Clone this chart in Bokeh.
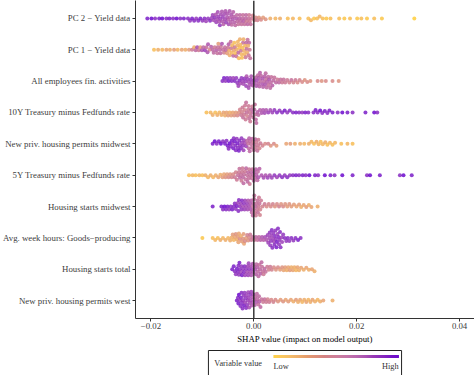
import numpy as np
from bokeh.plotting import figure
from bokeh.models import Range1d, FixedTicker, Span, ColumnDataSource
from bokeh.layouts import column
from bokeh.core.properties import value
from bokeh.embed import file_html
from bokeh.resources import INLINE

# ---------------- data (SHAP values in units of 1e-3, feature values 0=low .. 1=high)
features = ["PC 2 \u2212 Yield data", "PC 1 \u2212 Yield data", "All employees fin. activities",
            "10Y Treasury minus Fedfunds rate", "New priv. housing permits midwest",
            "5Y Treasury minus Fedfunds rate", "Housing starts midwest",
            "Avg. week hours: Goods\u2212producing", "Housing starts total",
            "New priv. housing permits west"]

shap_pc2 = [-20.7, -19.9, -19.2, -18.4, -17.8, -17.0, -16.4, -15.7, -15.0, -14.3, -13.6,
            -12.8, -12.4, -12.0, -11.6, -11.2, -10.8, -10.4, -10.0, -9.6, -9.3, -8.9, -8.5, -8.2,
            -8.0, -7.8, -7.6, -7.4, -7.3, -7.1, -6.9, -6.7, -6.6, -6.4, -6.2, -6.0, -5.9, -5.7, -5.5,
            -5.4, -5.2, -5.0, -4.9, -4.7, -4.6, -4.4, -4.3, -4.1, -4.0,
            -3.8, -3.6, -3.4, -3.2, -3.0, -2.8, -2.6, -2.4, -2.2, -2.0, -1.8, -1.6, -1.4, -1.2, -1.0,
            -0.8, -0.6, -0.4, -0.2,
            0.1, 0.4, 0.7, 1.0, 1.4, 1.8, 2.3,
            3.2, 4.2, 5.1, 6.6, 7.6, 8.9,
            10.6, 11.1, 11.7, 12.3, 12.8, 13.4, 14.1, 14.9,
            16.6, 17.6, 18.7, 20.1, 20.9, 22.0, 23.4, 24.9, 31.2,
            -7.0, -6.5, -6.1, -5.6, -5.1, -4.5, -3.9, -3.3, -2.7, -2.1, -1.5, -0.9]
feat_pc2 = [0.95, 1.0, 0.9, 0.95, 1.0, 0.9, 0.95, 0.9, 1.0, 0.9, 0.95,
            0.9, 0.85, 0.95, 0.9, 0.85, 0.9, 0.95, 0.85, 0.9, 0.8, 0.85, 0.9, 0.8,
            0.8, 0.75, 0.85, 0.7, 0.8, 0.75, 0.8, 0.7, 0.85, 0.75, 0.7, 0.8, 0.65, 0.75, 0.7,
            0.8, 0.7, 0.65, 0.75, 0.7, 0.65, 0.7, 0.6, 0.7, 0.65,
            0.65, 0.6, 0.7, 0.6, 0.55, 0.65, 0.6, 0.55, 0.6, 0.65, 0.55, 0.6, 0.5, 0.6, 0.55,
            0.5, 0.55, 0.5, 0.45,
            0.45, 0.4, 0.45, 0.35, 0.4, 0.3, 0.35,
            0.2, 0.15, 0.2, 0.1, 0.15, 0.1,
            0.1, 0.15, 0.05, 0.1, 0.15, 0.1, 0.05, 0.1,
            0.1, 0.05, 0.1, 0.05, 0.1, 0.05, 0.1, 0.05, 0.0,
            0.75, 0.8, 0.7, 0.75, 0.7, 0.65, 0.65, 0.6, 0.6, 0.55, 0.6, 0.5]

shap_pc1 = [-19.4, -18.6, -17.8, -17.0, -16.3, -15.5, -14.8, -14.0, -13.3, -12.6, -12.0, -11.6,
            -11.3, -11.0, -10.7, -10.4, -10.1, -9.8, -9.5, -9.2, -8.9, -8.6, -8.3, -8.0,
            -7.8, -7.6, -7.3, -7.1, -6.9, -6.6, -6.4, -6.2, -6.0, -5.8,
            -5.6, -5.4, -5.2, -5.0, -4.9, -4.7, -4.5, -4.4, -4.2, -4.0, -3.9, -3.7, -3.6, -3.4,
            -3.3, -3.1, -3.0, -2.8, -2.7, -2.5, -2.4, -2.2, -2.1, -1.9, -1.8, -1.6, -1.5, -1.3,
            -1.2, -1.0, -0.9, -0.7,
            -4.8, -4.3, -3.8, -3.2, -2.9, -2.6, -2.3, -2.0, -1.7, -1.4, -1.1, -0.8, -6.5, -7.0, -9.0]
feat_pc1 = [0.1, 0.2, 0.15, 0.25, 0.2, 0.3, 0.15, 0.25, 0.2, 0.3, 0.5, 0.2,
            0.6, 0.75, 0.5, 0.3, 0.7, 0.6, 0.8, 0.55, 0.7, 0.4, 0.65, 0.6,
            0.6, 0.5, 0.65, 0.55, 0.3, 0.6, 0.5, 0.7, 0.55, 0.45,
            0.55, 0.6, 0.3, 0.5, 0.65, 0.2, 0.55, 0.5, 0.15, 0.6, 0.25, 0.5, 0.1, 0.55,
            0.2, 0.15, 0.6, 0.1, 0.2, 0.5, 0.15, 0.1, 0.55, 0.2, 0.15, 0.5, 0.6, 0.2,
            0.55, 0.5, 0.6, 0.55,
            0.2, 0.15, 0.1, 0.2, 0.1, 0.15, 0.1, 0.2, 0.15, 0.55, 0.2, 0.5, 0.6, 0.55, 0.7]

shap_emp = [-6.1, -5.8, -5.5, -5.2, -4.9, -4.6, -4.3, -4.0, -3.7, -3.4,
            -3.2, -3.0, -2.8, -2.6, -2.4, -2.2, -2.0, -1.8, -1.6, -1.4, -1.2, -1.0, -0.8, -0.6,
            -0.4, -0.2, 0.0,
            0.2, 0.4, 0.6, 0.8, 1.0, 1.2, 1.4, 1.6, 1.8, 2.0, 2.2, 2.4, 2.6, 2.8, 3.0, 3.2, 3.4,
            3.6, 3.8, 4.0, 4.3, 4.6, 4.9, 5.2, 5.5, 5.8, 6.1,
            6.5, 6.9, 7.3, 7.7, 8.1, 8.5, 8.9, 9.4, 9.9, 10.4, 11.0,
            12.4, 13.2, 14.0, 15.3, 16.5,
            0.5, 0.9, 1.3, 1.7, 2.1, 2.5, 2.9, 3.3, -1.5, -1.0, -0.5, 1.1, 2.3]
feat_emp = [0.9, 0.95, 0.85, 0.9, 0.95, 0.85, 0.9, 0.8, 0.9, 0.85,
            0.85, 0.8, 0.9, 0.75, 0.85, 0.8, 0.75, 0.85, 0.8, 0.7, 0.8, 0.75, 0.7, 0.8,
            0.75, 0.7, 0.75,
            0.7, 0.65, 0.75, 0.6, 0.7, 0.65, 0.6, 0.7, 0.65, 0.6, 0.7, 0.55, 0.65, 0.6, 0.7, 0.6,
            0.55, 0.65, 0.6, 0.55, 0.6, 0.5, 0.6, 0.55, 0.5, 0.55, 0.5,
            0.5, 0.45, 0.55, 0.45, 0.5, 0.4, 0.45, 0.4, 0.35, 0.4, 0.35,
            0.4, 0.35, 0.4, 0.4, 0.35,
            0.7, 0.65, 0.6, 0.7, 0.65, 0.6, 0.55, 0.6, 0.8, 0.75, 0.7, 0.65, 0.6]

shap_10y = [-9.2, -8.4, -8.0, -7.5, -7.1, -6.7, -6.3, -5.9,
            -5.6, -5.3, -5.0, -4.7, -4.4, -4.1, -3.8, -3.5, -3.2, -2.9, -2.7,
            -2.5, -2.3, -2.1, -1.9, -1.7, -1.5, -1.3, -1.1, -0.9, -0.7, -0.5, -0.3, -0.1, 0.1,
            0.3, 0.5, 0.7, 0.9,
            1.2, 1.5, 1.8, 2.1, 2.4, 2.8, 3.2, 3.6,
            4.0, 4.5, 5.0, 5.5, 6.0, 6.5, 7.0, 7.6, 8.2, 8.8, 9.4, 10.0, 10.6,
            11.6, 12.0, 12.4, 12.9, 13.3, 13.8, 14.3, 14.7,
            15.3, 16.3, 17.2, 18.2, 19.2, 21.7, 23.4, 24.0,
            -2.2, -1.8, -1.4, -1.0, -0.6, -0.2, 0.2, -1.6, -0.8, 0.4]
feat_10y = [0.1, 0.15, 0.2, 0.1, 0.2, 0.15, 0.2, 0.25,
            0.2, 0.25, 0.3, 0.2, 0.3, 0.25, 0.35, 0.3, 0.4, 0.35, 0.45,
            0.5, 0.45, 0.55, 0.5, 0.5, 0.55, 0.45, 0.5, 0.55, 0.5, 0.6, 0.5, 0.55, 0.6,
            0.55, 0.6, 0.65, 0.6,
            0.65, 0.7, 0.7, 0.75, 0.7, 0.8, 0.75, 0.8,
            0.85, 0.9, 0.85, 0.9, 0.95, 0.85, 0.9, 0.9, 0.95, 0.9, 0.85, 0.95, 0.9,
            0.9, 0.95, 0.9, 1.0, 0.9, 0.95, 0.9, 0.95,
            0.95, 0.9, 1.0, 0.95, 0.9, 0.95, 1.0, 0.9,
            0.5, 0.45, 0.55, 0.5, 0.55, 0.6, 0.55, 0.5, 0.5, 0.6]

shap_npm = [-8.0, -7.6, -7.2, -6.8, -6.4, -6.0, -5.6, -5.3,
            -5.1, -4.9, -4.7, -4.5, -4.3, -4.1, -3.9, -3.7, -3.5, -3.3, -3.1, -2.9, -2.7, -2.5,
            -2.3, -2.1, -1.9, -1.7, -1.5,
            -1.3, -1.1, -0.9, -0.7, -0.5, -0.3, -0.1, 0.1, 0.3, 0.5, 0.7, 0.9, 1.1, 1.3,
            1.7, 2.2, 2.8, 3.3, 3.9, 4.4,
            6.3, 7.1, 8.0, 9.0, 9.8, 10.7,
            11.2, 11.7, 12.2, 12.6, 13.0, 13.4, 13.9, 14.3, 14.8, 15.3, 15.8,
            17.0, 18.2, 19.2,
            -4.0, -3.6, -3.2, -2.8, -2.4, -2.0, -0.8, -0.4, 0.0, 0.4, 0.8, -1.0]
feat_npm = [0.95, 1.0, 0.9, 0.95, 1.0, 0.9, 0.95, 0.9,
            0.95, 0.9, 1.0, 0.9, 0.95, 0.85, 0.9, 0.95, 0.9, 0.85, 0.9, 0.95, 0.85, 0.9,
            0.8, 0.85, 0.8, 0.75, 0.8,
            0.6, 0.55, 0.65, 0.6, 0.55, 0.6, 0.5, 0.55, 0.6, 0.5, 0.55, 0.5, 0.45, 0.5,
            0.45, 0.4, 0.45, 0.35, 0.4, 0.3,
            0.25, 0.3, 0.2, 0.2, 0.15, 0.2,
            0.15, 0.1, 0.2, 0.15, 0.1, 0.15, 0.2, 0.1, 0.15, 0.1, 0.15,
            0.1, 0.15, 0.1,
            0.95, 0.9, 0.95, 0.9, 0.85, 0.8, 0.6, 0.55, 0.55, 0.5, 0.5, 0.6]

shap_5y = [-12.6, -11.9, -11.3, -10.6, -10.0, -9.4, -8.9, -8.4, -7.9, -7.4, -6.9, -6.5,
           -6.1, -5.8, -5.5, -5.2, -4.9, -4.6, -4.3, -4.0, -3.7, -3.5,
           -3.3, -3.1, -2.9, -2.7, -2.5, -2.3, -2.1, -1.9, -1.7, -1.5, -1.3, -1.1, -0.9, -0.7,
           -0.5, -0.3, -0.1, 0.1, 0.3, 0.5, 0.7, 0.9, 1.1,
           1.5, 1.9, 2.3, 2.7, 3.1, 3.5, 4.0, 4.5, 5.0, 5.5, 6.0, 6.5, 7.0,
           7.6, 8.2, 8.8, 9.5, 10.1, 10.8,
           11.9, 12.5, 13.8, 14.9, 15.7, 17.2, 19.2, 22.0, 22.6, 24.5, 28.4, 29.1, 30.7,
           -2.8, -2.4, -2.0, -1.6, -1.2, -0.8, -0.4, 0.0, 0.4, 0.8, -1.0, -2.2]
feat_5y = [0.1, 0.15, 0.1, 0.15, 0.1, 0.2, 0.15, 0.2, 0.15, 0.2, 0.25, 0.2,
           0.3, 0.25, 0.35, 0.3, 0.4, 0.35, 0.45, 0.4, 0.5, 0.45,
           0.5, 0.55, 0.5, 0.6, 0.55, 0.5, 0.6, 0.55, 0.5, 0.6, 0.55, 0.6, 0.5, 0.55,
           0.6, 0.55, 0.6, 0.65, 0.6, 0.65, 0.6, 0.7, 0.65,
           0.7, 0.75, 0.7, 0.8, 0.75, 0.8, 0.85, 0.8, 0.85, 0.9, 0.85, 0.9, 0.85,
           0.9, 0.95, 0.9, 0.95, 0.9, 1.0,
           0.95, 0.9, 1.0, 0.95, 0.9, 1.0, 0.95, 0.9, 1.0, 0.95, 0.9, 1.0, 0.95,
           0.55, 0.5, 0.6, 0.55, 0.6, 0.5, 0.55, 0.6, 0.65, 0.6, 0.55, 0.5]

shap_hsm = [-8.0,
            -6.3, -6.0, -5.7, -5.4, -5.1, -4.8, -4.5, -4.2, -3.9,
            -3.7, -3.5, -3.3, -3.1, -2.9, -2.7, -2.5, -2.3, -2.1, -1.9, -1.7, -1.5, -1.3, -1.1,
            -0.9, -0.7, -0.5,
            -0.4, -0.25, -0.1, 0.05, 0.2, 0.35, 0.5, 0.65, 0.8, 0.95, 1.1, 1.25, 1.4,
            1.7, 2.1, 2.5, 2.9, 3.3, 3.7, 4.1, 4.5, 4.9, 5.3, 5.7, 6.1, 6.5, 6.9, 7.3,
            7.8, 8.3, 8.8, 9.2, 9.7, 10.2, 10.7, 11.2, 12.4,
            -3.0, -2.4, -1.8, -1.2, -0.6, -0.2, 0.1, 0.4, 0.7, 1.0, 1.2, 0.0]
feat_hsm = [0.95,
            0.95, 0.9, 1.0, 0.9, 0.95, 0.85, 0.9, 0.95, 0.9,
            0.9, 0.85, 0.95, 0.8, 0.9, 0.85, 0.8, 0.9, 0.75, 0.85, 0.8, 0.75, 0.8, 0.7,
            0.75, 0.7, 0.65,
            0.6, 0.55, 0.6, 0.55, 0.5, 0.6, 0.55, 0.5, 0.55, 0.5, 0.55, 0.45, 0.5,
            0.45, 0.5, 0.4, 0.45, 0.4, 0.45, 0.35, 0.4, 0.45, 0.35, 0.4, 0.35, 0.3, 0.35, 0.3,
            0.3, 0.25, 0.3, 0.2, 0.25, 0.3, 0.2, 0.25, 0.2,
            0.9, 0.85, 0.8, 0.75, 0.7, 0.6, 0.55, 0.5, 0.55, 0.5, 0.45, 0.55]

shap_awh = [-10.0,
            -8.0, -7.5, -7.0, -6.5, -6.0, -5.5, -5.0, -4.6,
            -4.3, -4.1, -3.9, -3.7, -3.5, -3.3, -3.1, -2.9, -2.7, -2.5, -2.3, -2.1, -1.9, -1.7,
            -1.5, -1.3, -1.1, -0.9, -0.7,
            -0.5, -0.2, 0.1, 0.4, 0.7, 1.0, 1.3,
            1.6, 1.9, 2.2, 2.5, 2.8, 3.0, 3.2, 3.4, 3.6, 3.8, 3.9, 4.1, 4.3, 4.5, 4.6, 4.8, 5.0,
            5.2, 5.4, 5.7, 6.0, 6.3, 6.6, 6.9,
            7.3, 7.7, 8.1, 8.6, 9.1,
            2.7, 3.1, 3.5, 3.7, 4.0, 4.2, 4.4, 4.7, 4.9, 5.1, 5.5, 3.3, -2.0, -3.0]
feat_awh = [0.05,
            0.1, 0.15, 0.1, 0.2, 0.15, 0.2, 0.15, 0.2,
            0.2, 0.3, 0.15, 0.25, 0.35, 0.2, 0.3, 0.25, 0.4, 0.2, 0.3, 0.35, 0.25, 0.4,
            0.3, 0.45, 0.35, 0.4, 0.5,
            0.5, 0.55, 0.5, 0.6, 0.55, 0.6, 0.65,
            0.7, 0.65, 0.75, 0.7, 0.8, 0.75, 0.85, 0.8, 0.9, 0.85, 0.8, 0.9, 0.85, 0.95, 0.8, 0.9,
            0.85, 0.9, 0.8, 0.85, 0.9, 0.85, 0.9, 0.85,
            0.9, 0.85, 0.9, 0.95, 0.9,
            0.8, 0.85, 0.9, 0.8, 0.9, 0.85, 0.95, 0.9, 0.85, 0.9, 0.8, 0.85, 0.3, 0.25]

shap_hst = [-4.2,
            -3.9, -3.7, -3.5, -3.3, -3.1, -2.9, -2.7, -2.5, -2.3, -2.1, -1.9, -1.7, -1.5, -1.3,
            -1.1, -0.9, -0.7, -0.5, -0.3, -0.1,
            0.1, 0.3, 0.5, 0.7, 0.9, 1.1, 1.3, 1.5, 1.7, 1.9, 2.1, 2.3, 2.6, 2.9, 3.2, 3.5,
            3.9, 4.3, 4.7, 5.1, 5.5, 5.8, 6.1, 6.4, 6.7, 7.0, 7.3, 7.6, 7.9, 8.2, 8.5, 8.8,
            9.2, 9.7, 10.2, 10.7, 11.3, 11.8,
            -3.0, -2.4, -1.8, -1.2, -0.6, -0.2, 0.4, 0.8, 1.2, 1.6, -2.8, -1.0]
feat_hst = [0.95,
            0.95, 0.9, 0.85, 0.95, 0.9, 0.85, 0.9, 0.8, 0.95, 0.85, 0.9, 0.8, 0.85, 0.75,
            0.8, 0.85, 0.75, 0.7, 0.8, 0.7,
            0.65, 0.7, 0.6, 0.65, 0.6, 0.55, 0.65, 0.6, 0.55, 0.5, 0.6, 0.55, 0.5, 0.45, 0.5, 0.45,
            0.4, 0.35, 0.4, 0.3, 0.35, 0.25, 0.3, 0.2, 0.25, 0.3, 0.2, 0.25, 0.2, 0.15, 0.25, 0.2,
            0.25, 0.2, 0.25, 0.2, 0.25, 0.2,
            0.9, 0.85, 0.9, 0.8, 0.75, 0.7, 0.65, 0.6, 0.6, 0.55, 0.95, 0.8]

shap_npw = [-3.3, -3.1, -2.9, -2.7, -2.6, -2.5, -2.3, -2.1, -2.0, -1.9, -1.7, -1.5, -1.4, -1.3,
            -1.1, -0.9, -0.8, -0.7, -0.5, -0.3, -0.2, -0.1,
            0.1, 0.3, 0.5, 0.7, 0.9, 1.1, 1.3, 1.5, 1.8, 2.1, 2.4, 2.7, 3.0, 3.4, 3.8, 4.2,
            4.7, 5.2, 5.7, 6.2, 6.7, 7.2, 7.7, 8.2, 8.6, 9.0, 9.4, 9.8, 10.2, 10.6, 11.0, 11.4,
            11.9, 12.4, 12.9, 13.5, 15.3,
            -3.0, -2.4, -1.8, -1.2, -0.6, -0.4, 0.2, 0.6, 1.0, -2.2, -1.6, -1.0]
feat_npw = [0.95, 0.9, 1.0, 0.85, 0.9, 0.95, 0.9, 0.85, 0.85, 0.95, 0.8, 0.9, 0.8, 0.85,
            0.8, 0.75, 0.75, 0.85, 0.8, 0.7, 0.7, 0.75,
            0.65, 0.6, 0.7, 0.6, 0.55, 0.65, 0.6, 0.55, 0.5, 0.55, 0.5, 0.45, 0.5, 0.4, 0.45, 0.4,
            0.35, 0.3, 0.35, 0.25, 0.3, 0.25, 0.2, 0.3, 0.2, 0.25, 0.15, 0.2, 0.25, 0.15, 0.2, 0.25,
            0.2, 0.15, 0.2, 0.25, 0.2,
            0.95, 0.9, 0.85, 0.8, 0.75, 0.7, 0.65, 0.6, 0.6, 0.9, 0.85, 0.8]

shap_rows = [shap_pc2, shap_pc1, shap_emp, shap_10y, shap_npm,
             shap_5y, shap_hsm, shap_awh, shap_hst, shap_npw]
feat_rows = [feat_pc2, feat_pc1, feat_emp, feat_10y, feat_npm,
             feat_5y, feat_hsm, feat_awh, feat_hst, feat_npw]

x_ticks = [-0.02, 0.0, 0.02, 0.04]
x_tick_labels = ["\u22120.02", "0.00", "0.02", "0.04"]
low_color, high_color = "#FFCC33", "#6600CC"

# ---------------- colour scale (Lab interpolation like ggplot)
_M = np.array([[0.4124, 0.3576, 0.1805], [0.2126, 0.7152, 0.0722], [0.0193, 0.1192, 0.9505]])
_Mi = np.linalg.inv(_M)
_WN = np.array([0.95047, 1.0, 1.08883])

def _hex_to_lab(h):
    rgb = np.array([int(h[i:i + 2], 16) / 255 for i in (1, 3, 5)])
    lin = np.where(rgb <= 0.04045, rgb / 12.92, ((rgb + 0.055) / 1.055) ** 2.4)
    t = _M @ lin / _WN
    d = 6 / 29
    f = np.where(t > d ** 3, np.cbrt(t), t / (3 * d * d) + 4 / 29)
    return np.array([116 * f[1] - 16, 500 * (f[0] - f[1]), 200 * (f[1] - f[2])])

def _lab_to_hex(lab):
    L, a, b = lab
    fy = (L + 16) / 116
    fx, fz = fy + a / 500, fy - b / 200
    d = 6 / 29
    f = np.array([fx, fy, fz])
    t = np.where(f > d, f ** 3, 3 * d * d * (f - 4 / 29)) * _WN
    lin = np.clip(_Mi @ t, 0, 1)
    rgb = np.where(lin <= 0.0031308, 12.92 * lin, 1.055 * lin ** (1 / 2.4) - 0.055)
    return "#%02x%02x%02x" % tuple(int(round(c * 255)) for c in np.clip(rgb, 0, 1))

LAB_LO, LAB_HI = _hex_to_lab(low_color), _hex_to_lab(high_color)

def grad(v):
    return _lab_to_hex(LAB_LO + (LAB_HI - LAB_LO) * v)

# ---------------- layout constants
W, H_MAIN, H_LEG = 474, 346, 29
FRAME_L, FRAME_B = 130, 26
X0, X1 = -0.0230, 0.0429
Y0, Y1 = 10.57, 0.43
px_per_x = (W - FRAME_L) / (X1 - X0)
px_per_y = (H_MAIN - FRAME_B) / (Y0 - Y1)

def swarm(xpx, d=3.1, step=0.5, maxoff=11.0):
    order = np.argsort(xpx, kind="stable")
    px_l, py_l = [], []
    off = np.zeros(len(xpx))
    for n, i in enumerate(order):
        x = xpx[i]
        near = [(a, b) for a, b in zip(px_l, py_l) if abs(a - x) < d]
        chosen, k = None, 0
        while chosen is None and k * step <= maxoff:
            if k == 0:
                cands = [0.0]
            else:
                cands = [k * step, -k * step] if n % 2 == 0 else [-k * step, k * step]
            for yy in cands:
                if all((x - a) ** 2 + (yy - b) ** 2 >= d * d for a, b in near):
                    chosen = yy
                    break
            k += 1
        if chosen is None:
            chosen = 0.0
        off[i] = chosen
        px_l.append(x)
        py_l.append(chosen)
    return off

xs, ys, cols = [], [], []
for r, (sv, fv) in enumerate(zip(shap_rows, feat_rows)):
    xv = np.array(sv) / 1000.0
    offs = swarm(xv * px_per_x)
    for xval, o, f in zip(xv, offs, fv):
        xs.append(xval)
        ys.append(r + 1 + o / px_per_y)
        cols.append(grad(f))

src = ColumnDataSource(dict(x=xs, y=ys, c=cols))

FONT = "Liberation Serif"

p = figure(width=W, height=H_MAIN, x_range=Range1d(X0, X1), y_range=Range1d(Y0, Y1),
           output_backend="svg", toolbar_location=None,
           min_border_left=FRAME_L, min_border_right=0, min_border_top=0,
           min_border_bottom=FRAME_B)
p.outline_line_color = None
p.xgrid.grid_line_color = None
p.ygrid.grid_line_color = None
p.background_fill_color = "white"
p.border_fill_color = "white"

p.add_layout(Span(location=0, dimension="height", line_color="#1a1a1a", line_width=1.3))
p.scatter("x", "y", source=src, size=4.0, fill_color="c", line_color=None, fill_alpha=0.82)

for ax in (p.xaxis[0], p.yaxis[0]):
    ax.axis_line_color = "#333333"
    ax.axis_line_width = 1
    ax.major_tick_line_color = "#333333"
    ax.major_tick_in = 0
    ax.major_tick_out = 3
    ax.minor_tick_line_color = None
    ax.major_label_text_font = FONT
    ax.major_label_text_font_size = "8.8px"
    ax.major_label_text_color = "#404040"

p.yaxis.ticker = FixedTicker(ticks=list(range(1, 11)))
p.yaxis.major_label_overrides = {i + 1: name for i, name in enumerate(features)}
p.yaxis.major_label_standoff = 2

p.xaxis.ticker = FixedTicker(ticks=x_ticks)
p.xaxis.major_label_overrides = {t: l for t, l in zip(x_ticks, x_tick_labels)}
p.xaxis.major_label_standoff = 1
p.xaxis.axis_label = "SHAP value (impact on model output)"
p.xaxis.axis_label_text_font = FONT
p.xaxis.axis_label_text_font_size = "8.8px"
p.xaxis.axis_label_text_font_style = "normal"
p.xaxis.axis_label_text_color = "#000000"
p.xaxis.axis_label_standoff = 2

# ---------------- legend (colour bar) panel; frame aligned with main frame (x in pixels)
lg = figure(width=W, height=H_LEG, x_range=Range1d(FRAME_L, W), y_range=Range1d(H_LEG, 0),
            output_backend="svg", toolbar_location=None, x_axis_type=None, y_axis_type=None,
            min_border_left=FRAME_L, min_border_right=0, min_border_top=0, min_border_bottom=0)
lg.outline_line_color = None
lg.xgrid.grid_line_color = None
lg.ygrid.grid_line_color = None
lg.background_fill_color = "white"
lg.border_fill_color = "white"

bar_l, bar_r, nbin = 270, 397, 127
lefts = [bar_l + (bar_r - bar_l) * i / nbin for i in range(nbin)]
rights = [bar_l + (bar_r - bar_l) * (i + 1) / nbin + 0.3 for i in range(nbin)]
bcols = [grad(i / (nbin - 1)) for i in range(nbin)]
lg.quad(left=lefts, right=rights, top=[8.5] * nbin, bottom=[11.5] * nbin,
        fill_color=bcols, line_color=None)
lg.quad(left=[204], right=[400], top=[4], bottom=[40], fill_color=None,
        line_color="#222222", line_width=1)
lg.text(x=[210], y=[16.8], text=["Variable value"], text_font=value(FONT),
        text_font_size="8.3px", text_baseline="middle", text_align="left", text_color="#333333")
lg.text(x=[270, 397], y=[20.2, 20.2], text=["Low", "High"], text_font=value(FONT),
        text_font_size="8.3px", text_baseline="middle", text_align=["left", "right"],
        text_color="#333333")

layout = column(p, lg, spacing=0)
open("out.html", "w").write(file_html(layout, INLINE))
